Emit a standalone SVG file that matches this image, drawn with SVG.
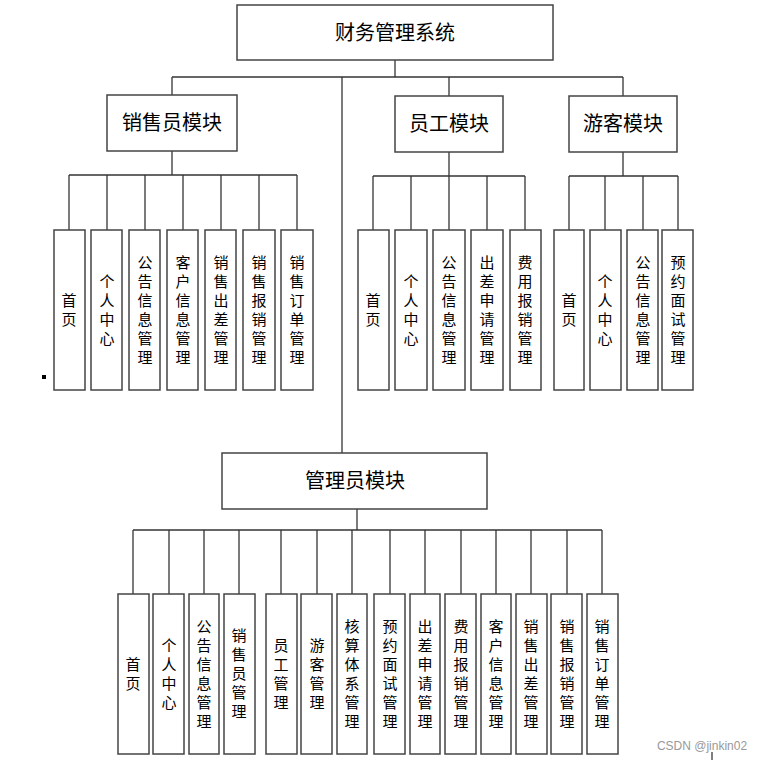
<svg xmlns="http://www.w3.org/2000/svg" width="779" height="762" viewBox="0 0 779 762">
<style>
rect{fill:#fff;stroke:#444;stroke-width:1.5}
.c line{stroke:#333;stroke-width:1.3}
text{font-family:"Noto Sans CJK SC","Noto Sans",sans-serif;fill:#000;text-anchor:middle}
.b{font-size:20px}
.v{font-size:15px}
</style>
<rect width="779" height="762" style="stroke:none"/>
<g class="c">
<line x1="395" y1="60" x2="395" y2="77"/><line x1="172" y1="77" x2="623" y2="77"/>
<line x1="172" y1="77" x2="172" y2="95"/><line x1="449" y1="77" x2="449" y2="96"/><line x1="623" y1="77" x2="623" y2="96"/>
<line x1="342" y1="77" x2="342" y2="453"/>
<line x1="172" y1="151" x2="172" y2="175"/><line x1="69" y1="175" x2="297" y2="175"/>
<line x1="69" y1="175" x2="69" y2="230"/><line x1="107" y1="175" x2="107" y2="230"/><line x1="145" y1="175" x2="145" y2="230"/><line x1="183" y1="175" x2="183" y2="230"/><line x1="221" y1="175" x2="221" y2="230"/><line x1="259" y1="175" x2="259" y2="230"/><line x1="297" y1="175" x2="297" y2="230"/>
<line x1="449" y1="152" x2="449" y2="176"/><line x1="373" y1="176" x2="525" y2="176"/>
<line x1="373" y1="176" x2="373" y2="230"/><line x1="411" y1="176" x2="411" y2="230"/><line x1="449" y1="176" x2="449" y2="230"/><line x1="487" y1="176" x2="487" y2="230"/><line x1="525" y1="176" x2="525" y2="230"/>
<line x1="623" y1="152" x2="623" y2="176"/><line x1="569" y1="176" x2="678" y2="176"/>
<line x1="569" y1="176" x2="569" y2="230"/><line x1="605" y1="176" x2="605" y2="230"/><line x1="643" y1="176" x2="643" y2="230"/><line x1="678" y1="176" x2="678" y2="230"/>
<line x1="357" y1="509" x2="357" y2="530"/><line x1="133" y1="530" x2="602" y2="530"/>
<line x1="133" y1="530" x2="133" y2="594"/><line x1="169" y1="530" x2="169" y2="594"/><line x1="204" y1="530" x2="204" y2="594"/><line x1="239" y1="530" x2="239" y2="594"/><line x1="281" y1="530" x2="281" y2="594"/><line x1="317" y1="530" x2="317" y2="594"/><line x1="352" y1="530" x2="352" y2="594"/><line x1="390" y1="530" x2="390" y2="594"/><line x1="425" y1="530" x2="425" y2="594"/><line x1="461" y1="530" x2="461" y2="594"/><line x1="496" y1="530" x2="496" y2="594"/><line x1="531" y1="530" x2="531" y2="594"/><line x1="567" y1="530" x2="567" y2="594"/><line x1="602" y1="530" x2="602" y2="594"/>
</g>
<g id="root"><rect x="237" y="5" width="316" height="55"/><text class="b" x="395" y="40">财务管理系统</text></g>
<g id="sales"><rect x="107" y="95" width="130" height="56"/><text class="b" x="172" y="130">销售员模块</text></g>
<g id="emp"><rect x="395" y="96" width="108" height="56"/><text class="b" x="449" y="131">员工模块</text></g>
<g id="visitor"><rect x="569" y="96" width="108" height="56"/><text class="b" x="623" y="131">游客模块</text></g>
<g id="admin"><rect x="222" y="453" width="265" height="56"/><text class="b" x="355" y="488">管理员模块</text></g>

<g id="s1"><rect x="54" y="230" width="31" height="160"/><text class="v" x="69" y="306"><tspan x="69">首</tspan><tspan x="69" dy="19">页</tspan></text></g>
<g id="s2"><rect x="91" y="230" width="31" height="160"/><text class="v" x="107" y="287"><tspan x="107">个</tspan><tspan x="107" dy="19">人</tspan><tspan x="107" dy="19">中</tspan><tspan x="107" dy="19">心</tspan></text></g>
<g id="s3"><rect x="129" y="230" width="31" height="160"/><text class="v" x="145" y="268"><tspan x="145">公</tspan><tspan x="145" dy="19">告</tspan><tspan x="145" dy="19">信</tspan><tspan x="145" dy="19">息</tspan><tspan x="145" dy="19">管</tspan><tspan x="145" dy="19">理</tspan></text></g>
<g id="s4"><rect x="167" y="230" width="31" height="160"/><text class="v" x="183" y="268"><tspan x="183">客</tspan><tspan x="183" dy="19">户</tspan><tspan x="183" dy="19">信</tspan><tspan x="183" dy="19">息</tspan><tspan x="183" dy="19">管</tspan><tspan x="183" dy="19">理</tspan></text></g>
<g id="s5"><rect x="205" y="230" width="31" height="160"/><text class="v" x="221" y="268"><tspan x="221">销</tspan><tspan x="221" dy="19">售</tspan><tspan x="221" dy="19">出</tspan><tspan x="221" dy="19">差</tspan><tspan x="221" dy="19">管</tspan><tspan x="221" dy="19">理</tspan></text></g>
<g id="s6"><rect x="243" y="230" width="32" height="160"/><text class="v" x="259" y="268"><tspan x="259">销</tspan><tspan x="259" dy="19">售</tspan><tspan x="259" dy="19">报</tspan><tspan x="259" dy="19">销</tspan><tspan x="259" dy="19">管</tspan><tspan x="259" dy="19">理</tspan></text></g>
<g id="s7"><rect x="281" y="230" width="32" height="160"/><text class="v" x="297" y="268"><tspan x="297">销</tspan><tspan x="297" dy="19">售</tspan><tspan x="297" dy="19">订</tspan><tspan x="297" dy="19">单</tspan><tspan x="297" dy="19">管</tspan><tspan x="297" dy="19">理</tspan></text></g>

<g id="e1"><rect x="358" y="230" width="31" height="160"/><text class="v" x="373" y="306"><tspan x="373">首</tspan><tspan x="373" dy="19">页</tspan></text></g>
<g id="e2"><rect x="395" y="230" width="32" height="160"/><text class="v" x="411" y="287"><tspan x="411">个</tspan><tspan x="411" dy="19">人</tspan><tspan x="411" dy="19">中</tspan><tspan x="411" dy="19">心</tspan></text></g>
<g id="e3"><rect x="433" y="230" width="32" height="160"/><text class="v" x="449" y="268"><tspan x="449">公</tspan><tspan x="449" dy="19">告</tspan><tspan x="449" dy="19">信</tspan><tspan x="449" dy="19">息</tspan><tspan x="449" dy="19">管</tspan><tspan x="449" dy="19">理</tspan></text></g>
<g id="e4"><rect x="471" y="230" width="32" height="160"/><text class="v" x="487" y="268"><tspan x="487">出</tspan><tspan x="487" dy="19">差</tspan><tspan x="487" dy="19">申</tspan><tspan x="487" dy="19">请</tspan><tspan x="487" dy="19">管</tspan><tspan x="487" dy="19">理</tspan></text></g>
<g id="e5"><rect x="510" y="230" width="31" height="160"/><text class="v" x="525" y="268"><tspan x="525">费</tspan><tspan x="525" dy="19">用</tspan><tspan x="525" dy="19">报</tspan><tspan x="525" dy="19">销</tspan><tspan x="525" dy="19">管</tspan><tspan x="525" dy="19">理</tspan></text></g>

<g id="v1"><rect x="554" y="230" width="30" height="160"/><text class="v" x="569" y="306"><tspan x="569">首</tspan><tspan x="569" dy="19">页</tspan></text></g>
<g id="v2"><rect x="590" y="230" width="31" height="160"/><text class="v" x="605" y="287"><tspan x="605">个</tspan><tspan x="605" dy="19">人</tspan><tspan x="605" dy="19">中</tspan><tspan x="605" dy="19">心</tspan></text></g>
<g id="v3"><rect x="627" y="230" width="31" height="160"/><text class="v" x="643" y="268"><tspan x="643">公</tspan><tspan x="643" dy="19">告</tspan><tspan x="643" dy="19">信</tspan><tspan x="643" dy="19">息</tspan><tspan x="643" dy="19">管</tspan><tspan x="643" dy="19">理</tspan></text></g>
<g id="v4"><rect x="662" y="230" width="31" height="160"/><text class="v" x="678" y="268"><tspan x="678">预</tspan><tspan x="678" dy="19">约</tspan><tspan x="678" dy="19">面</tspan><tspan x="678" dy="19">试</tspan><tspan x="678" dy="19">管</tspan><tspan x="678" dy="19">理</tspan></text></g>

<g id="a1"><rect x="118" y="594" width="31" height="160"/><text class="v" x="133" y="670"><tspan x="133">首</tspan><tspan x="133" dy="19">页</tspan></text></g>
<g id="a2"><rect x="153" y="594" width="31" height="160"/><text class="v" x="169" y="651"><tspan x="169">个</tspan><tspan x="169" dy="19">人</tspan><tspan x="169" dy="19">中</tspan><tspan x="169" dy="19">心</tspan></text></g>
<g id="a3"><rect x="189" y="594" width="30" height="160"/><text class="v" x="204" y="632"><tspan x="204">公</tspan><tspan x="204" dy="19">告</tspan><tspan x="204" dy="19">信</tspan><tspan x="204" dy="19">息</tspan><tspan x="204" dy="19">管</tspan><tspan x="204" dy="19">理</tspan></text></g>
<g id="a4"><rect x="224" y="594" width="31" height="160"/><text class="v" x="239" y="641"><tspan x="239">销</tspan><tspan x="239" dy="19">售</tspan><tspan x="239" dy="19">员</tspan><tspan x="239" dy="19">管</tspan><tspan x="239" dy="19">理</tspan></text></g>
<g id="a5"><rect x="266" y="594" width="31" height="160"/><text class="v" x="281" y="651"><tspan x="281">员</tspan><tspan x="281" dy="19">工</tspan><tspan x="281" dy="19">管</tspan><tspan x="281" dy="19">理</tspan></text></g>
<g id="a6"><rect x="301" y="594" width="31" height="160"/><text class="v" x="317" y="651"><tspan x="317">游</tspan><tspan x="317" dy="19">客</tspan><tspan x="317" dy="19">管</tspan><tspan x="317" dy="19">理</tspan></text></g>
<g id="a7"><rect x="337" y="594" width="30" height="160"/><text class="v" x="352" y="632"><tspan x="352">核</tspan><tspan x="352" dy="19">算</tspan><tspan x="352" dy="19">体</tspan><tspan x="352" dy="19">系</tspan><tspan x="352" dy="19">管</tspan><tspan x="352" dy="19">理</tspan></text></g>
<g id="a8"><rect x="374" y="594" width="31" height="160"/><text class="v" x="390" y="632"><tspan x="390">预</tspan><tspan x="390" dy="19">约</tspan><tspan x="390" dy="19">面</tspan><tspan x="390" dy="19">试</tspan><tspan x="390" dy="19">管</tspan><tspan x="390" dy="19">理</tspan></text></g>
<g id="a9"><rect x="410" y="594" width="30" height="160"/><text class="v" x="425" y="632"><tspan x="425">出</tspan><tspan x="425" dy="19">差</tspan><tspan x="425" dy="19">申</tspan><tspan x="425" dy="19">请</tspan><tspan x="425" dy="19">管</tspan><tspan x="425" dy="19">理</tspan></text></g>
<g id="a10"><rect x="445" y="594" width="31" height="160"/><text class="v" x="461" y="632"><tspan x="461">费</tspan><tspan x="461" dy="19">用</tspan><tspan x="461" dy="19">报</tspan><tspan x="461" dy="19">销</tspan><tspan x="461" dy="19">管</tspan><tspan x="461" dy="19">理</tspan></text></g>
<g id="a11"><rect x="481" y="594" width="30" height="160"/><text class="v" x="496" y="632"><tspan x="496">客</tspan><tspan x="496" dy="19">户</tspan><tspan x="496" dy="19">信</tspan><tspan x="496" dy="19">息</tspan><tspan x="496" dy="19">管</tspan><tspan x="496" dy="19">理</tspan></text></g>
<g id="a12"><rect x="516" y="594" width="31" height="160"/><text class="v" x="531" y="632"><tspan x="531">销</tspan><tspan x="531" dy="19">售</tspan><tspan x="531" dy="19">出</tspan><tspan x="531" dy="19">差</tspan><tspan x="531" dy="19">管</tspan><tspan x="531" dy="19">理</tspan></text></g>
<g id="a13"><rect x="551" y="594" width="31" height="160"/><text class="v" x="567" y="632"><tspan x="567">销</tspan><tspan x="567" dy="19">售</tspan><tspan x="567" dy="19">报</tspan><tspan x="567" dy="19">销</tspan><tspan x="567" dy="19">管</tspan><tspan x="567" dy="19">理</tspan></text></g>
<g id="a14"><rect x="587" y="594" width="31" height="160"/><text class="v" x="602" y="632"><tspan x="602">销</tspan><tspan x="602" dy="19">售</tspan><tspan x="602" dy="19">订</tspan><tspan x="602" dy="19">单</tspan><tspan x="602" dy="19">管</tspan><tspan x="602" dy="19">理</tspan></text></g>

<rect x="42" y="375" width="4" height="4" style="fill:#000;stroke:none"/>
<line x1="712" y1="752" x2="712" y2="760" stroke="#000" stroke-width="1"/>
<text x="702" y="750" style="font-family:'Liberation Sans',sans-serif;font-size:12px;fill:#999">CSDN @jinkin02</text>
</svg>
